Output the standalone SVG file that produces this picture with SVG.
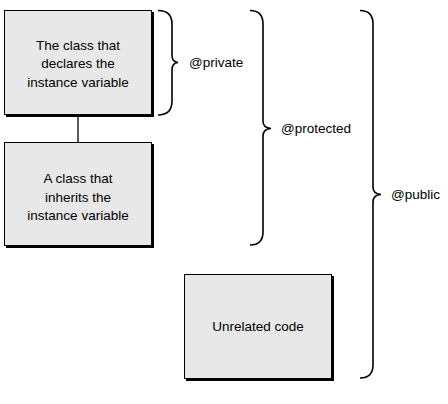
<svg xmlns="http://www.w3.org/2000/svg" width="448" height="404" viewBox="0 0 448 404">
<defs>
<style>
.box{fill:#e8e8e8;stroke:#000;stroke-width:1}
.shadow{fill:#000}
.t{font-family:"Liberation Sans",Arial,sans-serif;font-size:13.5px;fill:#000;text-anchor:middle}
.lbl{font-family:"Liberation Sans",Arial,sans-serif;font-size:13.5px;fill:#000}
.brace{fill:none;stroke:#000;stroke-width:1.6}
.conn{stroke:#000;stroke-width:1.3;fill:none}
</style>
</defs>
<rect width="448" height="404" fill="#fff"/>
<g id="connectors">
<line class="conn" x1="78" y1="116" x2="78" y2="143"/>
</g>
<g id="node-declares">
<rect class="shadow" x="6" y="12" width="148" height="105"/>
<rect class="box" x="4.5" y="10.5" width="147" height="104"/>
<text class="t" x="78" y="50">The class that</text>
<text class="t" x="78" y="68">declares the</text>
<text class="t" x="78" y="87">instance variable</text>
</g>
<g id="node-inherits">
<rect class="shadow" x="6" y="144" width="148" height="104"/>
<rect class="box" x="4.5" y="142.5" width="147" height="103"/>
<text class="t" x="78" y="183">A class that</text>
<text class="t" x="78" y="202">inherits the</text>
<text class="t" x="78" y="220">instance variable</text>
</g>
<g id="node-unrelated">
<rect class="shadow" x="186" y="276" width="148" height="105"/>
<rect class="box" x="184.5" y="274.5" width="147" height="104"/>
<text class="t" x="258" y="331">Unrelated code</text>
</g>
<g id="brace-private">
<path class="brace" d="M158,10.5 Q172,10.5 172,24 L172,55 Q172,62 178,62.5 Q172,63 172,70 L172,101 Q172,115 158,115"/>
<text class="lbl" x="189" y="67">@private</text>
</g>
<g id="brace-protected">
<path class="brace" d="M250,10.5 Q263,10.5 263,24 L263,121 Q263,128 271,128.5 Q263,129 263,136 L263,232 Q263,245 250,245"/>
<text class="lbl" x="281" y="133">@protected</text>
</g>
<g id="brace-public">
<path class="brace" d="M360,10.5 Q373,10.5 373,24 L373,187 Q373,194 381,194.5 Q373,195 373,202 L373,365 Q373,378 360,378"/>
<text class="lbl" x="391" y="199">@public</text>
</g>
</svg>
